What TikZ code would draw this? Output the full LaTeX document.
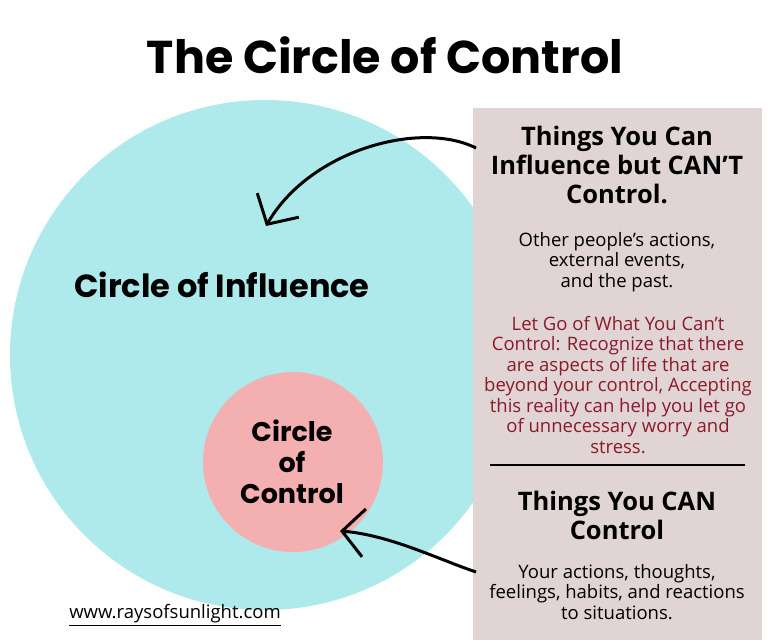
\documentclass[tikz,border=0pt]{standalone}
\usepackage{fontspec}
\setmainfont{Open Sans}
\newfontfamily\hand{Poppins}
\usetikzlibrary{arrows.meta}
\definecolor{cy}{HTML}{AEEAEC}
\definecolor{pk}{HTML}{F4B0B0}
\definecolor{pn}{HTML}{E0D4D4}
\definecolor{rd}{HTML}{8B1A2B}
\tikzset{
 hd/.style={font=\fontsize{25.5}{29}\selectfont\bfseries, align=center},
 bd/.style={font=\fontsize{18.5}{20.5}\selectfont, align=center},
 hw/.style={font=\hand\bfseries, align=center},
 arr/.style={line width=3pt, -{Straight Barb[length=22pt,width=48pt,line width=3pt]}}
}
\begin{document}
\begin{tikzpicture}[x=1pt,y=-1pt]
\useasboundingbox (0,0) rectangle (768,644);
\fill[white] (0,0) rectangle (768,644);
\node[hw, font=\hand\bfseries\fontsize{46}{50}\selectfont] (t) at (385,55) {The Circle of Control};
\fill[cy] (265,355) circle (255);
\node[circle, fill=pk, minimum size=180pt, inner sep=0] (cc) at (293,462) {};
\node[hw, font=\hand\bfseries\fontsize{27}{31}\selectfont] (ct) at (292,462) {Circle\\of\\Control};
\node[hw, font=\hand\bfseries\fontsize{32}{34}\selectfont] (ci) at (222,285) {Circle of Influence};
\node[fill=pn, minimum width=289pt, minimum height=532pt, anchor=north west, inner sep=0] (p) at (473,108) {};
\node[hd] (h1) at (617,165) {Things You Can\\Influence but CAN’T\\Control.};
\node[bd] (b1) at (617,262) {Other people's actions,\\external events,\\and the past.};
\node[bd, text=rd] (r1) at (618,385) {Let Go of What You Can't\\Control: Recognize that there\\are aspects of life that are\\beyond your control, Accepting\\this reality can help you let go\\of unnecessary worry and\\stress.};
\coordinate (l1) at (490,465); \coordinate (l2) at (745,465);
\draw[line width=2.5pt] (l1) -- (l2);
\node[hd] (h2) at (617,515) {Things You CAN\\Control};
\node[bd] (b2) at (617,592) {Your actions, thoughts,\\feelings, habits, and reactions\\to situations.};
\node[font=\fontsize{18.5}{20}\selectfont] (w) at (175,615) {\underline{www.raysofsunlight.com}};
\coordinate (a1) at (476,148); \coordinate (e1) at (266,226);
\draw[arr] (a1) .. controls (420,120) and (310,150) .. (e1);
\coordinate (a2) at (476,572); \coordinate (e2) at (340,531);
\draw[arr] (a2) .. controls (440,560) and (390,535) .. (e2);
\end{tikzpicture}
\end{document}
